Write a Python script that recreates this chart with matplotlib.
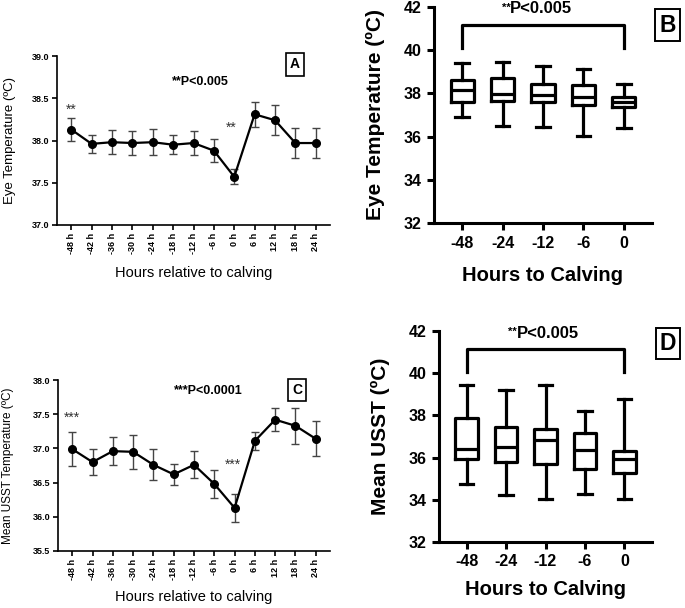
import numpy as np
import matplotlib
matplotlib.use('Agg')
import matplotlib.pyplot as plt

plt.rcParams['font.family'] = ['Liberation Sans', 'DejaVu Sans']

# Data
hours = [-48, -42, -36, -30, -24, -18, -12, -6, 0, 6, 12, 18, 24]
hour_labels = [f'{h} h' for h in hours]

eye_mean = [38.13, 37.96, 37.98, 37.97, 37.98, 37.95, 37.97, 37.88, 37.57, 38.31, 38.24, 37.97, 37.97]
eye_sem = [0.14, 0.105, 0.14, 0.14, 0.155, 0.11, 0.14, 0.14, 0.09, 0.15, 0.18, 0.18, 0.18]

usst_mean = [36.99, 36.80, 36.96, 36.95, 36.76, 36.62, 36.76, 36.48, 36.13, 37.11, 37.42, 37.33, 37.14]
usst_sem = [0.245, 0.19, 0.20, 0.245, 0.225, 0.155, 0.20, 0.205, 0.20, 0.135, 0.165, 0.26, 0.255]

box_groups = ['-48', '-24', '-12', '-6', '0']

eye_wlo = [36.89, 36.49, 36.43, 36.04, 36.38]
eye_q1 = [37.59, 37.67, 37.60, 37.46, 37.39]
eye_med = [38.16, 37.96, 37.93, 37.82, 37.60]
eye_q3 = [38.63, 38.69, 38.42, 38.39, 37.84]
eye_whi = [39.40, 39.46, 39.28, 39.12, 38.42]

usst_wlo = [34.74, 34.24, 34.06, 34.28, 34.06]
usst_q1 = [35.92, 35.78, 35.69, 35.46, 35.26]
usst_med = [36.39, 36.52, 36.83, 36.36, 35.94]
usst_q3 = [37.86, 37.46, 37.37, 37.18, 36.33]
usst_whi = [39.43, 39.20, 39.43, 38.20, 38.77]

fig = plt.figure(figsize=(6.85, 6.08), dpi=100)
W, H = 685, 608


def px_axes(l, t, r, b):
    return fig.add_axes([l / W, 1 - b / H, (r - l) / W, (b - t) / H])


def line_panel(ax, mean, sem, ylim, yticks, ylabel, ylab_size):
    x = np.arange(len(hours))
    ax.errorbar(x, mean, yerr=sem, color='black', ecolor='#444444', elinewidth=1.0,
                capsize=3, capthick=1.0, marker='o', markersize=5.5, lw=1.6)
    ax.set_xlim(-0.7, 12.7)
    ax.set_ylim(*ylim)
    ax.set_yticks(yticks)
    ax.set_yticklabels([f'{v:.1f}' for v in yticks], fontsize=6.5, fontweight='bold')
    ax.set_xticks(x)
    ax.set_xticklabels(hour_labels, rotation=90, fontsize=6.5, fontweight='bold')
    for s in ['top', 'right']:
        ax.spines[s].set_visible(False)
    for s in ['left', 'bottom']:
        ax.spines[s].set_linewidth(1.2)
    ax.tick_params(direction='out', length=3.5, width=1.2, pad=2)
    ax.set_ylabel(ylabel, fontsize=ylab_size)
    ax.set_xlabel('Hours relative to calving', fontsize=10.5)


def box_panel(ax, wlo, q1, med, q3, whi, ylabel):
    stats = []
    for i in range(len(box_groups)):
        stats.append(dict(whislo=wlo[i], q1=q1[i], med=med[i], q3=q3[i], whishi=whi[i],
                          fliers=[], label=box_groups[i]))
    lw = 2.3
    ax.bxp(stats, positions=np.arange(len(box_groups)), widths=0.58, capwidths=0.34,
           showfliers=False, patch_artist=False,
           boxprops=dict(color='black', lw=lw), whiskerprops=dict(color='black', lw=lw),
           capprops=dict(color='black', lw=lw), medianprops=dict(color='black', lw=lw))
    ax.set_xlim(-0.7, 4.7)
    ax.set_ylim(32, 42)
    ax.set_yticks([32, 34, 36, 38, 40, 42])
    ax.set_yticklabels(['32', '34', '36', '38', '40', '42'], fontsize=11.5, fontweight='bold')
    ax.set_xticks(np.arange(len(box_groups)))
    ax.set_xticklabels(box_groups, fontsize=11.5, fontweight='bold')
    for s in ['top', 'right']:
        ax.spines[s].set_visible(False)
    for s in ['left', 'bottom']:
        ax.spines[s].set_linewidth(2.2)
    ax.tick_params(direction='out', length=5, width=2.2, pad=4)
    ax.set_ylabel(ylabel, fontsize=15, fontweight='bold')
    ax.set_xlabel('Hours to Calving', fontsize=14.5, fontweight='bold')


box_kw = dict(boxstyle='square,pad=0.3', fc='white', ec='black', lw=1.2)
big_box_kw = dict(boxstyle='square,pad=0.18', fc='white', ec='black', lw=1.4)

# Panel A
axA = px_axes(57, 56, 330, 225)
line_panel(axA, eye_mean, eye_sem, (37.0, 39.0), [37.0, 37.5, 38.0, 38.5, 39.0],
           'Eye Temperature (ºC)', 9.5)
axA.yaxis.set_label_coords(-0.152, 0.5)
axA.xaxis.set_label_coords(0.5, -0.24)
axA.text(6.35, 38.69, '**P<0.005', ha='center', va='center', fontsize=9, fontweight='bold')
axA.text(0, 38.36, '**', ha='center', va='center', fontsize=10, color='#333333')
axA.text(7.85, 38.15, '**', ha='center', va='center', fontsize=10, color='#333333')
axA.text(10.97, 38.9, 'A', ha='center', va='center', fontsize=10, fontweight='bold', bbox=box_kw)

# Panel C
axC = px_axes(58, 380, 330, 551)
line_panel(axC, usst_mean, usst_sem, (35.5, 38.0), [35.5, 36.0, 36.5, 37.0, 37.5, 38.0],
           'Mean USST Temperature (ºC)', 8.5)
axC.yaxis.set_label_coords(-0.162, 0.5)
axC.xaxis.set_label_coords(0.5, -0.228)
axC.text(6.7, 37.84, '***P<0.0001', ha='center', va='center', fontsize=9, fontweight='bold')
axC.text(0, 37.45, '***', ha='center', va='center', fontsize=10, color='#333333')
axC.text(7.9, 36.76, '***', ha='center', va='center', fontsize=10, color='#333333')
axC.text(11.07, 37.85, 'C', ha='center', va='center', fontsize=10, fontweight='bold', bbox=box_kw)

# Panel B
axB = px_axes(434, 7, 652, 223)
box_panel(axB, eye_wlo, eye_q1, eye_med, eye_q3, eye_whi, 'Eye Temperature (ºC)')
axB.yaxis.set_label_coords(-0.225, 0.5)
axB.xaxis.set_label_coords(0.5, -0.2)
axB.plot([0, 0, 4, 4], [40.1, 41.18, 41.18, 40.1], color='black', lw=2.3, clip_on=False)
axB.text(1.19, 41.95, '**', ha='right', va='center', fontsize=8, fontweight='bold', clip_on=False)
axB.text(1.19, 41.92, 'P<0.005', ha='left', va='center', fontsize=12, fontweight='bold', clip_on=False)
fig.text(667.5 / W, 1 - 25 / H, 'B', ha='center', va='center', fontsize=16.5, fontweight='bold',
         bbox=big_box_kw)

# Panel D
axD = px_axes(439, 331, 652, 542)
box_panel(axD, usst_wlo, usst_q1, usst_med, usst_q3, usst_whi, 'Mean USST (ºC)')
axD.yaxis.set_label_coords(-0.23, 0.5)
axD.xaxis.set_label_coords(0.5, -0.18)
axD.plot([0, 0, 4, 4], [40.06, 41.13, 41.13, 40.06], color='black', lw=2.3, clip_on=False)
axD.text(1.28, 41.95, '**', ha='right', va='center', fontsize=8, fontweight='bold', clip_on=False)
axD.text(1.28, 41.9, 'P<0.005', ha='left', va='center', fontsize=12, fontweight='bold', clip_on=False)
fig.text(668 / W, 1 - 343.5 / H, 'D', ha='center', va='center', fontsize=16.5, fontweight='bold',
         bbox=big_box_kw)

fig.savefig('out.png', dpi=100)
